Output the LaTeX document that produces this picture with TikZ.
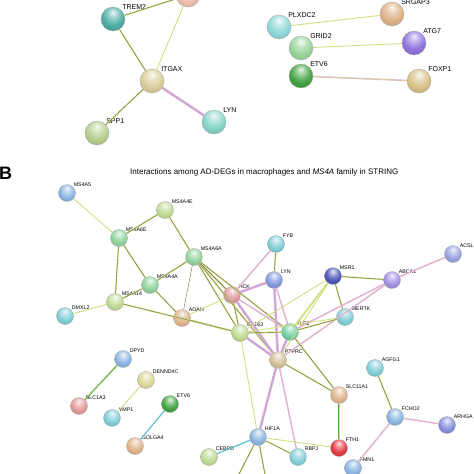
\documentclass[tikz,border=0pt]{standalone}
\usepackage{fontspec}
\setmainfont{Liberation Sans}
\usepackage{xcolor}
\usepackage{tikz}
\usetikzlibrary{shadings}

% lighter sphere look for the gene balls
\makeatletter
\pgfdeclareradialshading[tikz@ball]{ball}{\pgfqpoint{0bp}{14bp}}{%
  color(0bp)=(tikz@ball!12!white); color(10bp)=(tikz@ball!55!white);
  color(22bp)=(tikz@ball!95!white); color(36bp)=(tikz@ball!88!black);
  color(50bp)=(tikz@ball!68!black); color(70bp)=(tikz@ball!45!black)}
\makeatother

% node colours, panel A
\definecolor{trem2col}{RGB}{70,170,160}
\definecolor{peachcol}{RGB}{240,190,170}
\definecolor{itgaxcol}{RGB}{215,205,150}
\definecolor{spp1col}{RGB}{180,205,140}
\definecolor{lynacol}{RGB}{130,210,200}
\definecolor{plxdc2col}{RGB}{140,215,215}
\definecolor{srgap3col}{RGB}{220,175,130}
\definecolor{grid2col}{RGB}{150,210,150}
\definecolor{atg7col}{RGB}{140,110,220}
\definecolor{etv6col}{RGB}{60,160,60}
\definecolor{foxp1col}{RGB}{215,190,130}
% node colours, panel B
\definecolor{bluecol}{RGB}{135,180,225}
\definecolor{lgreencol}{RGB}{190,218,145}
\definecolor{greencol}{RGB}{140,210,155}
\definecolor{cyancol}{RGB}{125,205,215}
\definecolor{tancol}{RGB}{222,178,135}
\definecolor{hckcol}{RGB}{225,150,160}
\definecolor{lynbcol}{RGB}{130,150,220}
\definecolor{msr1col}{RGB}{70,80,180}
\definecolor{abca1col}{RGB}{160,140,225}
\definecolor{acslcol}{RGB}{150,160,225}
\definecolor{tlr2col}{RGB}{110,205,160}
\definecolor{ptprccol}{RGB}{210,190,150}
\definecolor{fth1col}{RGB}{225,50,60}
\definecolor{arhgacol}{RGB}{130,140,220}
\definecolor{dennd4ccol}{RGB}{220,215,150}
\definecolor{slc1a3col}{RGB}{225,150,150}
% edge colours
\definecolor{tmcol}{RGB}{210,222,130}
\definecolor{cocol}{RGB}{110,110,75}
\definecolor{pkcol}{RGB}{225,180,210}
\definecolor{excol}{RGB}{160,115,215}
\definecolor{dbcol}{RGB}{90,195,205}
\definecolor{grcol}{RGB}{70,165,70}

\begin{document}
\begin{tikzpicture}[x=1pt, y=-1pt]

		% Define styles
		\tikzstyle{gene} = [circle, inner sep=0pt, minimum size=17pt, draw=black!35, line width=0.3pt]
		\tikzstyle{biggene} = [gene, minimum size=24pt]
		\tikzstyle{lbl} = [font=\fontsize{5.3}{6}\selectfont, inner sep=0.5pt]
		\tikzstyle{biglbl} = [font=\fontsize{7}{8}\selectfont, inner sep=0.5pt]
		\tikzstyle{tm} = [draw=tmcol, line width=0.9pt]
		\tikzstyle{co} = [draw=cocol, line width=0.4pt]
		\tikzstyle{tmco} = [draw=tmcol, line width=1.5pt, postaction={draw=cocol, line width=0.4pt}]
		\tikzstyle{pk} = [draw=pkcol, line width=1.5pt]
		\tikzstyle{mix} = [draw=pkcol, line width=2.6pt, postaction={draw=excol!70, line width=0.8pt}]
		\tikzstyle{db} = [draw=dbcol, line width=1.2pt]
		\tikzstyle{gr} = [draw=grcol, line width=1.4pt, postaction={draw=tmcol, line width=0.4pt}]

		\useasboundingbox[fill=white] (0,0) rectangle (474,474);

		% Panel A
		\node[biggene, ball color=peachcol] (top) at (188,-5) {};
		\node[biggene, ball color=trem2col, label={[biglbl]45:TREM2}] (trem2) at (113,19) {};
		\node[biggene, ball color=itgaxcol, label={[biglbl]45:ITGAX}] (itgax) at (152,81) {};
		\node[biggene, ball color=spp1col, label={[biglbl]45:SPP1}] (spp1) at (97,133) {};
		\node[biggene, ball color=lynacol, label={[biglbl]45:LYN}] (lyna) at (214,122) {};
		\node[biggene, ball color=plxdc2col, label={[biglbl]45:PLXDC2}] (plxdc2) at (279,27) {};
		\node[biggene, ball color=srgap3col, label={[biglbl]45:SRGAP3}] (srgap3) at (392,14) {};
		\node[biggene, ball color=grid2col, label={[biglbl]45:GRID2}] (grid2) at (301,48) {};
		\node[biggene, ball color=atg7col, label={[biglbl]45:ATG7}] (atg7) at (414,43) {};
		\node[biggene, ball color=etv6col, label={[biglbl]45:ETV6}] (etv6a) at (301,76) {};
		\node[biggene, ball color=foxp1col, label={[biglbl]45:FOXP1}] (foxp1) at (419,81) {};

		\draw[tmco] (trem2) -- (top);
		\draw[tm] (top) -- (itgax);
		\draw[tmco] (trem2) -- (itgax);
		\draw[tmco] (itgax) -- (spp1);
		\draw[mix] (itgax) -- (lyna);
		\draw[tm] (plxdc2) -- (srgap3);
		\draw[tm] (grid2) -- (atg7);
		\draw[pk, postaction={draw=tmcol, line width=0.5pt}] (etv6a) -- (foxp1);

		% Panel B
		\node[font=\fontsize{18}{18}\selectfont\bfseries, anchor=west, inner sep=0pt] (panelb) at (-1,173) {B};
		\node[font=\fontsize{8}{9}\selectfont, anchor=west, inner sep=0pt] (title) at (130,172)
			{Interactions among AD-DEGs in macrophages and \textit{MS4A} family in STRING};

		\node[gene, ball color=bluecol, label={[lbl]45:MS4A5}] (ms4a5) at (67,193) {};
		\node[gene, ball color=lgreencol, label={[lbl]45:MS4A4E}] (ms4a4e) at (165,210) {};
		\node[gene, ball color=greencol, label={[lbl]45:MS4A6E}] (ms4a6e) at (119,238) {};
		\node[gene, ball color=greencol, label={[lbl]45:MS4A6A}] (ms4a6a) at (194,257) {};
		\node[gene, ball color=greencol, label={[lbl]45:MS4A4A}] (ms4a4a) at (150,285) {};
		\node[gene, ball color=lgreencol, label={[lbl]45:MS4A14}] (ms4a14) at (115,302) {};
		\node[gene, ball color=cyancol, label={[lbl]45:DMXL2}] (dmxl2) at (65,316) {};
		\node[gene, ball color=tancol, label={[lbl]45:AOAH}] (aoah) at (182,318) {};
		\node[gene, ball color=hckcol, label={[lbl]45:HCK}] (hck) at (232,295) {};
		\node[gene, ball color=cyancol, label={[lbl]45:FYB}] (fyb) at (276,244) {};
		\node[gene, ball color=lynbcol, label={[lbl]45:LYN}] (lynb) at (274,280) {};
		\node[gene, ball color=msr1col, label={[lbl]45:MSR1}] (msr1) at (333,276) {};
		\node[gene, ball color=abca1col, label={[lbl]45:ABCA1}] (abca1) at (392,280) {};
		\node[gene, ball color=acslcol, label={[lbl]45:ACSL}] (acsl) at (453,254) {};
		\node[gene, ball color=cyancol, label={[lbl]45:MERTK}] (mertk) at (345,317) {};
		\node[gene, ball color=lgreencol, label={[lbl]45:CD163}] (cd163) at (240,333) {};
		\node[gene, ball color=tlr2col, label={[lbl]45:TLR2}] (tlr2) at (290,332) {};
		\node[gene, ball color=ptprccol, label={[lbl]45:PTPRC}] (ptprc) at (278,360) {};
		\node[gene, ball color=tancol, label={[lbl]45:SLC11A1}] (slc11a1) at (339,395) {};
		\node[gene, ball color=fth1col, label={[lbl]45:FTH1}] (fth1) at (339,448) {};
		\node[gene, ball color=cyancol, label={[lbl]45:AGFG1}] (agfg1) at (375,368) {};
		\node[gene, ball color=bluecol, label={[lbl]45:FCHO2}] (fcho2) at (395,417) {};
		\node[gene, ball color=arhgacol, label={[lbl]45:ARHGA}] (arhga) at (447,425) {};
		\node[gene, ball color=bluecol, label={[lbl]45:FMN1}] (fmn1) at (353,468) {};
		\node[gene, ball color=cyancol, label={[lbl]45:RBPJ}] (rbpj) at (298,457) {};
		\node[gene, ball color=bluecol, label={[lbl]45:HIF1A}] (hif1a) at (258,437) {};
		\node[gene, ball color=lgreencol, label={[lbl]45:CEBPD}] (cebpd) at (209,457) {};
		\node[gene, ball color=bluecol, label={[lbl]45:DPYD}] (dpyd) at (123,359) {};
		\node[gene, ball color=dennd4ccol, label={[lbl]45:DENND4C}] (dennd4c) at (146,380) {};
		\node[gene, ball color=slc1a3col, label={[lbl]45:SLC1A3}] (slc1a3) at (79,406) {};
		\node[gene, ball color=cyancol, label={[lbl]45:VMP1}] (vmp1) at (112,418) {};
		\node[gene, ball color=etv6col, label={[lbl]45:ETV6}] (etv6b) at (170,404) {};
		\node[gene, ball color=tancol, label={[lbl]45:GOLGA4}] (golga4) at (135,446) {};
		\coordinate (offa) at (236,480);
		\coordinate (offb) at (266,480);

		% MS4A cluster
		\draw[tm] (ms4a5) -- (ms4a6e);
		\draw[tmco] (ms4a4e) -- (ms4a6e);
		\draw[tmco] (ms4a4e) -- (ms4a6a);
		\draw[tmco] (ms4a6e) -- (ms4a14);
		\draw[tmco] (ms4a6e) -- (ms4a4a);
		\draw[tmco] (ms4a6a) -- (ms4a4a);
		\draw[tmco] (ms4a4a) -- (ms4a14);
		\draw[tm] (ms4a14) -- (dmxl2);
		\draw[tmco] (ms4a14) -- (cd163);
		\draw[tmco] (ms4a4a) -- (aoah);
		\draw[co] (ms4a6a) -- (aoah);
		\draw[tmco] (ms4a6a) -- (hck);
		\draw[tmco] (ms4a6a) -- (cd163);
		\draw[tmco] (ms4a6a) -- (tlr2);
		\draw[tmco] (ms4a6a) -- (ptprc);
		\draw[tm] (aoah) -- (hck);
		\draw[tmco] (aoah) -- (cd163);

		% macrophage hub
		\draw[pk] (hck) -- (fyb);
		\draw[mix] (hck) -- (lynb);
		\draw[mix] (hck) -- (ptprc);
		\draw[pk] (hck) -- (tlr2);
		\draw[tmco] (hck) -- (cd163);
		\draw[tmco] (fyb) -- (lynb);
		\draw[mix] (lynb) -- (ptprc);
		\draw[pk] (lynb) -- (tlr2);
		\draw[tmco] (msr1) -- (abca1);
		\draw[tmco] (msr1) -- (mertk);
		\draw[tm, line width=1.8pt] (msr1) -- (tlr2);
		\draw[tm] (msr1) -- (cd163);
		\draw[tm] (msr1) -- (ptprc);
		\draw[pk] (abca1) -- (acsl);
		\draw[pk] (abca1) -- (tlr2);
		\draw[pk] (abca1) -- (ptprc);
		\draw[tmco] (mertk) -- (tlr2);
		\draw[tm] (mertk) -- (cd163);
		\draw[tmco] (cd163) -- (tlr2);
		\draw[mix] (cd163) -- (ptprc);
		\draw[mix] (tlr2) -- (ptprc);
		\draw[tmco] (tlr2) -- (slc11a1);
		\draw[tmco] (ptprc) -- (slc11a1);
		\draw[mix] (ptprc) -- (hif1a);
		\draw[pk] (ptprc) -- (rbpj);
		\draw[tm] (cd163) -- (hif1a);
		\draw[gr] (slc11a1) -- (fth1);
		\draw[tm] (hif1a) -- (fth1);
		\draw[tmco] (hif1a) -- (rbpj);
		\draw[db] (hif1a) -- (cebpd);
		\draw[tmco] (hif1a) -- (offa);
		\draw[tmco] (hif1a) -- (offb);
		\draw[tmco] (agfg1) -- (fcho2);
		\draw[pk] (fcho2) -- (arhga);
		\draw[pk] (fcho2) -- (fmn1);

		% small pairs
		\draw[gr] (dpyd) -- (slc1a3);
		\draw[tm] (dennd4c) -- (vmp1);
		\draw[db] (etv6b) -- (golga4);

	\end{tikzpicture}
\end{document}
